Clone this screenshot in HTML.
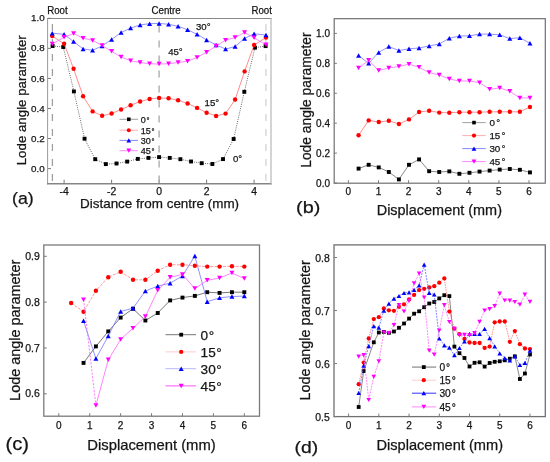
<!DOCTYPE html><html><head><meta charset="utf-8"><style>html,body{margin:0;padding:0;background:#fff;}svg{display:block;will-change:transform;}text{font-family:"Liberation Sans", sans-serif;stroke:#151515;stroke-width:0.25px;}</style></head><body>
<svg width="550" height="462" viewBox="0 0 550 462">
<rect width="550" height="462" fill="#fff"/>
<line x1="47.6" y1="18.5" x2="47.6" y2="184.4" stroke="#999" stroke-width="1"/>
<line x1="47.1" y1="183.75" x2="271.6" y2="183.75" stroke="#858585" stroke-width="1.4"/>
<line x1="47.1" y1="18.5" x2="271.6" y2="18.5" stroke="#888" stroke-width="1.2"/>
<line x1="271" y1="18" x2="271" y2="184.4" stroke="#b0b0b0" stroke-width="1.1"/>
<line x1="64.1" y1="183.7" x2="64.1" y2="179.7" stroke="#7a7a7a" stroke-width="1"/>
<line x1="111.6" y1="183.7" x2="111.6" y2="179.7" stroke="#7a7a7a" stroke-width="1"/>
<line x1="159.1" y1="183.7" x2="159.1" y2="179.7" stroke="#7a7a7a" stroke-width="1"/>
<line x1="206.6" y1="183.7" x2="206.6" y2="179.7" stroke="#7a7a7a" stroke-width="1"/>
<line x1="254.1" y1="183.7" x2="254.1" y2="179.7" stroke="#7a7a7a" stroke-width="1"/>
<line x1="48" y1="168.6" x2="51" y2="168.6" stroke="#7a7a7a" stroke-width="1"/>
<line x1="48" y1="138.54" x2="51" y2="138.54" stroke="#7a7a7a" stroke-width="1"/>
<line x1="48" y1="108.48" x2="51" y2="108.48" stroke="#7a7a7a" stroke-width="1"/>
<line x1="48" y1="78.42" x2="51" y2="78.42" stroke="#7a7a7a" stroke-width="1"/>
<line x1="48" y1="48.36" x2="51" y2="48.36" stroke="#7a7a7a" stroke-width="1"/>
<line x1="48" y1="18.3" x2="51" y2="18.3" stroke="#7a7a7a" stroke-width="1"/>
<line x1="52.4" y1="23.9" x2="52.4" y2="183" stroke="#a0a0a0" stroke-width="1.3" stroke-dasharray="7,8"/>
<line x1="159.1" y1="25.5" x2="159.1" y2="183" stroke="#a8a8a8" stroke-width="1.3" stroke-dasharray="7,8"/>
<line x1="265.9" y1="23.9" x2="265.9" y2="183" stroke="#d4d4d4" stroke-width="1.3" stroke-dasharray="7,8"/>
<text x="44.6" y="171.7" font-size="9.8" text-anchor="end" fill="#151515">0.0</text>
<text x="44.6" y="141.64" font-size="9.8" text-anchor="end" fill="#151515">0.2</text>
<text x="44.6" y="111.58" font-size="9.8" text-anchor="end" fill="#151515">0.4</text>
<text x="44.6" y="81.52" font-size="9.8" text-anchor="end" fill="#151515">0.6</text>
<text x="44.6" y="51.46" font-size="9.8" text-anchor="end" fill="#151515">0.8</text>
<text x="44.6" y="21.4" font-size="9.8" text-anchor="end" fill="#151515">1.0</text>
<text x="64.1" y="194.9" font-size="10.4" text-anchor="middle" fill="#151515">-4</text>
<text x="111.6" y="194.9" font-size="10.4" text-anchor="middle" fill="#151515">-2</text>
<text x="159.1" y="194.9" font-size="10.4" text-anchor="middle" fill="#151515">0</text>
<text x="206.6" y="194.9" font-size="10.4" text-anchor="middle" fill="#151515">2</text>
<text x="254.1" y="194.9" font-size="10.4" text-anchor="middle" fill="#151515">4</text>
<text x="80" y="207.8" font-size="13.4" text-anchor="start" fill="#151515" textLength="159.1" lengthAdjust="spacingAndGlyphs">Distance from centre (mm)</text>
<text x="25.6" y="165.3" font-size="13.3" text-anchor="start" fill="#151515" transform="rotate(-90 25.6 165.3)">Lode angle parameter</text>
<text x="12.1" y="203.7" font-size="17.4" text-anchor="start" fill="#151515" textLength="21.7" lengthAdjust="spacingAndGlyphs">(a)</text>
<text x="47.2" y="13.6" font-size="10.3" text-anchor="start" fill="#151515" textLength="20.4" lengthAdjust="spacingAndGlyphs">Root</text>
<text x="251.5" y="13.6" font-size="10.3" text-anchor="start" fill="#151515" textLength="20.4" lengthAdjust="spacingAndGlyphs">Root</text>
<text x="151.5" y="13.6" font-size="10.3" text-anchor="start" fill="#151515" textLength="29.1" lengthAdjust="spacingAndGlyphs">Centre</text>
<text x="196" y="30" font-size="9.6" text-anchor="start" fill="#151515">30°</text>
<text x="168.2" y="55.1" font-size="9.6" text-anchor="start" fill="#151515">45°</text>
<text x="204.6" y="105.9" font-size="9.6" text-anchor="start" fill="#151515">15°</text>
<text x="233" y="161.5" font-size="9.6" text-anchor="start" fill="#151515">0°</text>
<polyline points="52.6,46 63.25,47 73.9,91.4 84.55,138.7 95.2,159.2 105.85,164.1 116.5,163.5 127.15,161.6 137.8,158.9 148.45,157.9 159.1,157.1 169.75,157.9 180.4,159.2 191.05,161.5 201.7,163.2 212.35,164 223,159.1 233.65,139 244.3,91.8 254.95,47.7 265.6,46.1" fill="none" stroke="#444" stroke-width="0.8" stroke-dasharray="1,1.2"/>
<rect x="50.65" y="44.05" width="3.9" height="3.9" fill="#000"/>
<rect x="61.3" y="45.05" width="3.9" height="3.9" fill="#000"/>
<rect x="71.95" y="89.45" width="3.9" height="3.9" fill="#000"/>
<rect x="82.6" y="136.75" width="3.9" height="3.9" fill="#000"/>
<rect x="93.25" y="157.25" width="3.9" height="3.9" fill="#000"/>
<rect x="103.9" y="162.15" width="3.9" height="3.9" fill="#000"/>
<rect x="114.55" y="161.55" width="3.9" height="3.9" fill="#000"/>
<rect x="125.2" y="159.65" width="3.9" height="3.9" fill="#000"/>
<rect x="135.85" y="156.95" width="3.9" height="3.9" fill="#000"/>
<rect x="146.5" y="155.95" width="3.9" height="3.9" fill="#000"/>
<rect x="157.15" y="155.15" width="3.9" height="3.9" fill="#000"/>
<rect x="167.8" y="155.95" width="3.9" height="3.9" fill="#000"/>
<rect x="178.45" y="157.25" width="3.9" height="3.9" fill="#000"/>
<rect x="189.1" y="159.55" width="3.9" height="3.9" fill="#000"/>
<rect x="199.75" y="161.25" width="3.9" height="3.9" fill="#000"/>
<rect x="210.4" y="162.05" width="3.9" height="3.9" fill="#000"/>
<rect x="221.05" y="157.15" width="3.9" height="3.9" fill="#000"/>
<rect x="231.7" y="137.05" width="3.9" height="3.9" fill="#000"/>
<rect x="242.35" y="89.85" width="3.9" height="3.9" fill="#000"/>
<rect x="253" y="45.75" width="3.9" height="3.9" fill="#000"/>
<rect x="263.65" y="44.15" width="3.9" height="3.9" fill="#000"/>
<polyline points="52.22,36.1 64.1,43.8 73.6,68.8 83.1,96.2 92.6,111.4 102.1,115.8 111.6,113.5 121.1,109.5 130.6,105.3 140.1,101.5 149.6,99 159.1,98 168.6,98.3 178.1,100.2 187.6,103.5 197.1,107.9 206.6,112.7 216.1,116 225.6,113.6 235.1,99.5 244.6,71.4 254.1,45 265.98,37.6" fill="none" stroke="#ff7070" stroke-width="0.8"/>
<circle cx="52.22" cy="36.1" r="2.2" fill="#ff0000"/>
<circle cx="64.1" cy="43.8" r="2.2" fill="#ff0000"/>
<circle cx="73.6" cy="68.8" r="2.2" fill="#ff0000"/>
<circle cx="83.1" cy="96.2" r="2.2" fill="#ff0000"/>
<circle cx="92.6" cy="111.4" r="2.2" fill="#ff0000"/>
<circle cx="102.1" cy="115.8" r="2.2" fill="#ff0000"/>
<circle cx="111.6" cy="113.5" r="2.2" fill="#ff0000"/>
<circle cx="121.1" cy="109.5" r="2.2" fill="#ff0000"/>
<circle cx="130.6" cy="105.3" r="2.2" fill="#ff0000"/>
<circle cx="140.1" cy="101.5" r="2.2" fill="#ff0000"/>
<circle cx="149.6" cy="99" r="2.2" fill="#ff0000"/>
<circle cx="159.1" cy="98" r="2.2" fill="#ff0000"/>
<circle cx="168.6" cy="98.3" r="2.2" fill="#ff0000"/>
<circle cx="178.1" cy="100.2" r="2.2" fill="#ff0000"/>
<circle cx="187.6" cy="103.5" r="2.2" fill="#ff0000"/>
<circle cx="197.1" cy="107.9" r="2.2" fill="#ff0000"/>
<circle cx="206.6" cy="112.7" r="2.2" fill="#ff0000"/>
<circle cx="216.1" cy="116" r="2.2" fill="#ff0000"/>
<circle cx="225.6" cy="113.6" r="2.2" fill="#ff0000"/>
<circle cx="235.1" cy="99.5" r="2.2" fill="#ff0000"/>
<circle cx="244.6" cy="71.4" r="2.2" fill="#ff0000"/>
<circle cx="254.1" cy="45" r="2.2" fill="#ff0000"/>
<circle cx="265.98" cy="37.6" r="2.2" fill="#ff0000"/>
<polyline points="52.22,33.2 64.1,34.3 73.6,41.6 83.1,48.9 92.6,50.3 102.1,46 111.6,39.4 121.1,32.5 130.6,28.1 140.1,24.9 149.6,23.7 159.1,23.4 168.6,24.3 178.1,26.3 187.6,29.8 197.1,34.3 206.6,39.9 216.1,45 225.6,49 235.1,46.6 244.6,38.4 254.1,33.8 265.98,35.1" fill="none" stroke="#7777ff" stroke-width="0.8"/>
<polygon points="52.22,30.95 49.72,35.45 54.72,35.45" fill="#0000ff"/>
<polygon points="64.1,32.05 61.6,36.55 66.6,36.55" fill="#0000ff"/>
<polygon points="73.6,39.35 71.1,43.85 76.1,43.85" fill="#0000ff"/>
<polygon points="83.1,46.65 80.6,51.15 85.6,51.15" fill="#0000ff"/>
<polygon points="92.6,48.05 90.1,52.55 95.1,52.55" fill="#0000ff"/>
<polygon points="102.1,43.75 99.6,48.25 104.6,48.25" fill="#0000ff"/>
<polygon points="111.6,37.15 109.1,41.65 114.1,41.65" fill="#0000ff"/>
<polygon points="121.1,30.25 118.6,34.75 123.6,34.75" fill="#0000ff"/>
<polygon points="130.6,25.85 128.1,30.35 133.1,30.35" fill="#0000ff"/>
<polygon points="140.1,22.65 137.6,27.15 142.6,27.15" fill="#0000ff"/>
<polygon points="149.6,21.45 147.1,25.95 152.1,25.95" fill="#0000ff"/>
<polygon points="159.1,21.15 156.6,25.65 161.6,25.65" fill="#0000ff"/>
<polygon points="168.6,22.05 166.1,26.55 171.1,26.55" fill="#0000ff"/>
<polygon points="178.1,24.05 175.6,28.55 180.6,28.55" fill="#0000ff"/>
<polygon points="187.6,27.55 185.1,32.05 190.1,32.05" fill="#0000ff"/>
<polygon points="197.1,32.05 194.6,36.55 199.6,36.55" fill="#0000ff"/>
<polygon points="206.6,37.65 204.1,42.15 209.1,42.15" fill="#0000ff"/>
<polygon points="216.1,42.75 213.6,47.25 218.6,47.25" fill="#0000ff"/>
<polygon points="225.6,46.75 223.1,51.25 228.1,51.25" fill="#0000ff"/>
<polygon points="235.1,44.35 232.6,48.85 237.6,48.85" fill="#0000ff"/>
<polygon points="244.6,36.15 242.1,40.65 247.1,40.65" fill="#0000ff"/>
<polygon points="254.1,31.55 251.6,36.05 256.6,36.05" fill="#0000ff"/>
<polygon points="265.98,32.85 263.48,37.35 268.48,37.35" fill="#0000ff"/>
<polyline points="52.22,44.1 64.1,37.2 73.6,33.6 83.1,38.2 92.6,40.4 102.1,45.5 111.6,51.3 121.1,57 130.6,60.8 140.1,62.5 149.6,63.7 159.1,64.1 168.6,63.7 178.1,62.5 187.6,61.2 197.1,57.4 206.6,52.2 216.1,46 225.6,40.2 235.1,37.5 244.6,32.6 254.1,37.8 265.98,44.8" fill="none" stroke="#ff55ff" stroke-width="0.7"/>
<polygon points="52.22,46.35 49.72,41.85 54.72,41.85" fill="#ff00ff"/>
<polygon points="64.1,39.45 61.6,34.95 66.6,34.95" fill="#ff00ff"/>
<polygon points="73.6,35.85 71.1,31.35 76.1,31.35" fill="#ff00ff"/>
<polygon points="83.1,40.45 80.6,35.95 85.6,35.95" fill="#ff00ff"/>
<polygon points="92.6,42.65 90.1,38.15 95.1,38.15" fill="#ff00ff"/>
<polygon points="102.1,47.75 99.6,43.25 104.6,43.25" fill="#ff00ff"/>
<polygon points="111.6,53.55 109.1,49.05 114.1,49.05" fill="#ff00ff"/>
<polygon points="121.1,59.25 118.6,54.75 123.6,54.75" fill="#ff00ff"/>
<polygon points="130.6,63.05 128.1,58.55 133.1,58.55" fill="#ff00ff"/>
<polygon points="140.1,64.75 137.6,60.25 142.6,60.25" fill="#ff00ff"/>
<polygon points="149.6,65.95 147.1,61.45 152.1,61.45" fill="#ff00ff"/>
<polygon points="159.1,66.35 156.6,61.85 161.6,61.85" fill="#ff00ff"/>
<polygon points="168.6,65.95 166.1,61.45 171.1,61.45" fill="#ff00ff"/>
<polygon points="178.1,64.75 175.6,60.25 180.6,60.25" fill="#ff00ff"/>
<polygon points="187.6,63.45 185.1,58.95 190.1,58.95" fill="#ff00ff"/>
<polygon points="197.1,59.65 194.6,55.15 199.6,55.15" fill="#ff00ff"/>
<polygon points="206.6,54.45 204.1,49.95 209.1,49.95" fill="#ff00ff"/>
<polygon points="216.1,48.25 213.6,43.75 218.6,43.75" fill="#ff00ff"/>
<polygon points="225.6,42.45 223.1,37.95 228.1,37.95" fill="#ff00ff"/>
<polygon points="235.1,39.75 232.6,35.25 237.6,35.25" fill="#ff00ff"/>
<polygon points="244.6,34.85 242.1,30.35 247.1,30.35" fill="#ff00ff"/>
<polygon points="254.1,40.05 251.6,35.55 256.6,35.55" fill="#ff00ff"/>
<polygon points="265.98,47.05 263.48,42.55 268.48,42.55" fill="#ff00ff"/>
<line x1="119.5" y1="119.3" x2="138" y2="119.3" stroke="#888" stroke-width="0.8"/>
<rect x="127" y="117.5" width="3.6" height="3.6" fill="#000"/>
<text x="140.8" y="122.6" font-size="9" text-anchor="start" fill="#151515">0<tspan dx="0.6" font-size="7.5">°</tspan></text>
<line x1="119.5" y1="130.2" x2="138" y2="130.2" stroke="#ff9999" stroke-width="0.8"/>
<circle cx="128.8" cy="130.2" r="2" fill="#ff0000"/>
<text x="140.8" y="133.5" font-size="9" text-anchor="start" fill="#151515">15<tspan dx="0.6" font-size="7.5">°</tspan></text>
<line x1="119.5" y1="140.4" x2="138" y2="140.4" stroke="#6666ff" stroke-width="0.8"/>
<polygon points="128.8,138.24 126.4,142.56 131.2,142.56" fill="#0000ff"/>
<text x="140.8" y="143.7" font-size="9" text-anchor="start" fill="#151515">30<tspan dx="0.6" font-size="7.5">°</tspan></text>
<line x1="119.5" y1="150.7" x2="138" y2="150.7" stroke="#ff66ff" stroke-width="0.8"/>
<polygon points="128.8,152.86 126.4,148.54 131.2,148.54" fill="#ff00ff"/>
<text x="140.8" y="154" font-size="9" text-anchor="start" fill="#151515">45<tspan dx="0.6" font-size="7.5">°</tspan></text>
<rect x="334.2" y="18.7" width="211.1" height="164.5" fill="none" stroke="#707070" stroke-width="1.2"/>
<line x1="348.4" y1="183.2" x2="348.4" y2="180.2" stroke="#7a7a7a" stroke-width="1"/>
<line x1="378.5" y1="183.2" x2="378.5" y2="180.2" stroke="#7a7a7a" stroke-width="1"/>
<line x1="408.6" y1="183.2" x2="408.6" y2="180.2" stroke="#7a7a7a" stroke-width="1"/>
<line x1="438.7" y1="183.2" x2="438.7" y2="180.2" stroke="#7a7a7a" stroke-width="1"/>
<line x1="468.8" y1="183.2" x2="468.8" y2="180.2" stroke="#7a7a7a" stroke-width="1"/>
<line x1="498.9" y1="183.2" x2="498.9" y2="180.2" stroke="#7a7a7a" stroke-width="1"/>
<line x1="529" y1="183.2" x2="529" y2="180.2" stroke="#7a7a7a" stroke-width="1"/>
<line x1="333.9" y1="183" x2="336.9" y2="183" stroke="#7a7a7a" stroke-width="1"/>
<line x1="333.9" y1="153.08" x2="336.9" y2="153.08" stroke="#7a7a7a" stroke-width="1"/>
<line x1="333.9" y1="123.16" x2="336.9" y2="123.16" stroke="#7a7a7a" stroke-width="1"/>
<line x1="333.9" y1="93.24" x2="336.9" y2="93.24" stroke="#7a7a7a" stroke-width="1"/>
<line x1="333.9" y1="63.32" x2="336.9" y2="63.32" stroke="#7a7a7a" stroke-width="1"/>
<line x1="333.9" y1="33.4" x2="336.9" y2="33.4" stroke="#7a7a7a" stroke-width="1"/>
<text x="330" y="186.5" font-size="10" text-anchor="end" fill="#151515">0.0</text>
<text x="330" y="156.58" font-size="10" text-anchor="end" fill="#151515">0.2</text>
<text x="330" y="126.66" font-size="10" text-anchor="end" fill="#151515">0.4</text>
<text x="330" y="96.74" font-size="10" text-anchor="end" fill="#151515">0.6</text>
<text x="330" y="66.82" font-size="10" text-anchor="end" fill="#151515">0.8</text>
<text x="330" y="36.9" font-size="10" text-anchor="end" fill="#151515">1.0</text>
<text x="348.4" y="194.5" font-size="10" text-anchor="middle" fill="#151515">0</text>
<text x="378.5" y="194.5" font-size="10" text-anchor="middle" fill="#151515">1</text>
<text x="408.6" y="194.5" font-size="10" text-anchor="middle" fill="#151515">2</text>
<text x="438.7" y="194.5" font-size="10" text-anchor="middle" fill="#151515">3</text>
<text x="468.8" y="194.5" font-size="10" text-anchor="middle" fill="#151515">4</text>
<text x="498.9" y="194.5" font-size="10" text-anchor="middle" fill="#151515">5</text>
<text x="529" y="194.5" font-size="10" text-anchor="middle" fill="#151515">6</text>
<text x="376.7" y="214.6" font-size="14" text-anchor="start" fill="#151515" textLength="125.3" lengthAdjust="spacingAndGlyphs">Displacement (mm)</text>
<text x="311.2" y="167.8" font-size="13.85" text-anchor="start" fill="#151515" transform="rotate(-90 311.2 167.8)">Lode angle parameter</text>
<text x="296.1" y="213.4" font-size="17.4" text-anchor="start" fill="#151515" textLength="24.2" lengthAdjust="spacingAndGlyphs">(b)</text>
<polyline points="358.58,168.6 368.66,164.8 378.74,167.4 388.82,172 398.9,179.4 408.99,164.8 419.07,159.4 429.15,171.2 439.23,172 449.31,171.4 459.39,173.8 469.47,172.8 479.55,171.6 489.63,170.6 499.72,169.6 509.8,169 519.88,169.8 529.96,172.4" fill="none" stroke="#555" stroke-width="0.7"/>
<rect x="356.63" y="166.65" width="3.9" height="3.9" fill="#000"/>
<rect x="366.71" y="162.85" width="3.9" height="3.9" fill="#000"/>
<rect x="376.79" y="165.45" width="3.9" height="3.9" fill="#000"/>
<rect x="386.87" y="170.05" width="3.9" height="3.9" fill="#000"/>
<rect x="396.95" y="177.45" width="3.9" height="3.9" fill="#000"/>
<rect x="407.04" y="162.85" width="3.9" height="3.9" fill="#000"/>
<rect x="417.12" y="157.45" width="3.9" height="3.9" fill="#000"/>
<rect x="427.2" y="169.25" width="3.9" height="3.9" fill="#000"/>
<rect x="437.28" y="170.05" width="3.9" height="3.9" fill="#000"/>
<rect x="447.36" y="169.45" width="3.9" height="3.9" fill="#000"/>
<rect x="457.44" y="171.85" width="3.9" height="3.9" fill="#000"/>
<rect x="467.52" y="170.85" width="3.9" height="3.9" fill="#000"/>
<rect x="477.6" y="169.65" width="3.9" height="3.9" fill="#000"/>
<rect x="487.68" y="168.65" width="3.9" height="3.9" fill="#000"/>
<rect x="497.77" y="167.65" width="3.9" height="3.9" fill="#000"/>
<rect x="507.85" y="167.05" width="3.9" height="3.9" fill="#000"/>
<rect x="517.93" y="167.85" width="3.9" height="3.9" fill="#000"/>
<rect x="528.01" y="170.45" width="3.9" height="3.9" fill="#000"/>
<polyline points="358.58,135.2 368.66,120.4 378.74,122 388.82,120.8 398.9,124 408.99,119.4 419.07,112 429.15,110.8 439.23,112.6 449.31,112.7 459.39,112.2 469.47,112.2 479.55,112.2 489.63,111.8 499.72,111.8 509.8,111.8 519.88,111.8 529.96,107" fill="none" stroke="#ff7070" stroke-width="0.8"/>
<circle cx="358.58" cy="135.2" r="2.2" fill="#ff0000"/>
<circle cx="368.66" cy="120.4" r="2.2" fill="#ff0000"/>
<circle cx="378.74" cy="122" r="2.2" fill="#ff0000"/>
<circle cx="388.82" cy="120.8" r="2.2" fill="#ff0000"/>
<circle cx="398.9" cy="124" r="2.2" fill="#ff0000"/>
<circle cx="408.99" cy="119.4" r="2.2" fill="#ff0000"/>
<circle cx="419.07" cy="112" r="2.2" fill="#ff0000"/>
<circle cx="429.15" cy="110.8" r="2.2" fill="#ff0000"/>
<circle cx="439.23" cy="112.6" r="2.2" fill="#ff0000"/>
<circle cx="449.31" cy="112.7" r="2.2" fill="#ff0000"/>
<circle cx="459.39" cy="112.2" r="2.2" fill="#ff0000"/>
<circle cx="469.47" cy="112.2" r="2.2" fill="#ff0000"/>
<circle cx="479.55" cy="112.2" r="2.2" fill="#ff0000"/>
<circle cx="489.63" cy="111.8" r="2.2" fill="#ff0000"/>
<circle cx="499.72" cy="111.8" r="2.2" fill="#ff0000"/>
<circle cx="509.8" cy="111.8" r="2.2" fill="#ff0000"/>
<circle cx="519.88" cy="111.8" r="2.2" fill="#ff0000"/>
<circle cx="529.96" cy="107" r="2.2" fill="#ff0000"/>
<polyline points="358.58,55.6 368.66,63.3 378.74,52.4 388.82,46.6 398.9,50.5 408.99,48.8 419.07,48 429.15,45.9 439.23,44 449.31,38.2 459.39,36 469.47,35.8 479.55,34.1 489.63,34.1 499.72,34.8 509.8,38.6 519.88,37.7 529.96,43.3" fill="none" stroke="#7777ff" stroke-width="0.8"/>
<polygon points="358.58,53.35 356.08,57.85 361.08,57.85" fill="#0000ff"/>
<polygon points="368.66,61.05 366.16,65.55 371.16,65.55" fill="#0000ff"/>
<polygon points="378.74,50.15 376.24,54.65 381.24,54.65" fill="#0000ff"/>
<polygon points="388.82,44.35 386.32,48.85 391.32,48.85" fill="#0000ff"/>
<polygon points="398.9,48.25 396.4,52.75 401.4,52.75" fill="#0000ff"/>
<polygon points="408.99,46.55 406.49,51.05 411.49,51.05" fill="#0000ff"/>
<polygon points="419.07,45.75 416.57,50.25 421.57,50.25" fill="#0000ff"/>
<polygon points="429.15,43.65 426.65,48.15 431.65,48.15" fill="#0000ff"/>
<polygon points="439.23,41.75 436.73,46.25 441.73,46.25" fill="#0000ff"/>
<polygon points="449.31,35.95 446.81,40.45 451.81,40.45" fill="#0000ff"/>
<polygon points="459.39,33.75 456.89,38.25 461.89,38.25" fill="#0000ff"/>
<polygon points="469.47,33.55 466.97,38.05 471.97,38.05" fill="#0000ff"/>
<polygon points="479.55,31.85 477.05,36.35 482.05,36.35" fill="#0000ff"/>
<polygon points="489.63,31.85 487.13,36.35 492.13,36.35" fill="#0000ff"/>
<polygon points="499.72,32.55 497.22,37.05 502.22,37.05" fill="#0000ff"/>
<polygon points="509.8,36.35 507.3,40.85 512.3,40.85" fill="#0000ff"/>
<polygon points="519.88,35.45 517.38,39.95 522.38,39.95" fill="#0000ff"/>
<polygon points="529.96,41.05 527.46,45.55 532.46,45.55" fill="#0000ff"/>
<polyline points="358.58,68 368.66,60.3 378.74,70.6 388.82,68 398.9,66.5 408.99,64.2 419.07,67.3 429.15,72.6 439.23,74.9 449.31,79 459.39,81 469.47,81 479.55,82.7 489.63,89.3 499.72,87.9 509.8,91.3 519.88,97.9 529.96,97.9" fill="none" stroke="#ff55ff" stroke-width="0.7"/>
<polygon points="358.58,70.25 356.08,65.75 361.08,65.75" fill="#ff00ff"/>
<polygon points="368.66,62.55 366.16,58.05 371.16,58.05" fill="#ff00ff"/>
<polygon points="378.74,72.85 376.24,68.35 381.24,68.35" fill="#ff00ff"/>
<polygon points="388.82,70.25 386.32,65.75 391.32,65.75" fill="#ff00ff"/>
<polygon points="398.9,68.75 396.4,64.25 401.4,64.25" fill="#ff00ff"/>
<polygon points="408.99,66.45 406.49,61.95 411.49,61.95" fill="#ff00ff"/>
<polygon points="419.07,69.55 416.57,65.05 421.57,65.05" fill="#ff00ff"/>
<polygon points="429.15,74.85 426.65,70.35 431.65,70.35" fill="#ff00ff"/>
<polygon points="439.23,77.15 436.73,72.65 441.73,72.65" fill="#ff00ff"/>
<polygon points="449.31,81.25 446.81,76.75 451.81,76.75" fill="#ff00ff"/>
<polygon points="459.39,83.25 456.89,78.75 461.89,78.75" fill="#ff00ff"/>
<polygon points="469.47,83.25 466.97,78.75 471.97,78.75" fill="#ff00ff"/>
<polygon points="479.55,84.95 477.05,80.45 482.05,80.45" fill="#ff00ff"/>
<polygon points="489.63,91.55 487.13,87.05 492.13,87.05" fill="#ff00ff"/>
<polygon points="499.72,90.15 497.22,85.65 502.22,85.65" fill="#ff00ff"/>
<polygon points="509.8,93.55 507.3,89.05 512.3,89.05" fill="#ff00ff"/>
<polygon points="519.88,100.15 517.38,95.65 522.38,95.65" fill="#ff00ff"/>
<polygon points="529.96,100.15 527.46,95.65 532.46,95.65" fill="#ff00ff"/>
<line x1="462.3" y1="122.6" x2="485.7" y2="122.6" stroke="#888" stroke-width="0.8"/>
<rect x="472.2" y="120.8" width="3.6" height="3.6" fill="#000"/>
<text x="489.4" y="126.1" font-size="9.8" text-anchor="start" fill="#151515">0<tspan dx="1.3">°</tspan></text>
<line x1="462.3" y1="135.6" x2="485.7" y2="135.6" stroke="#ff9999" stroke-width="0.8"/>
<circle cx="474" cy="135.6" r="2.1" fill="#ff0000"/>
<text x="489.4" y="139.1" font-size="9.8" text-anchor="start" fill="#151515">15<tspan dx="1.3">°</tspan></text>
<line x1="462.3" y1="148.6" x2="485.7" y2="148.6" stroke="#6666ff" stroke-width="0.8"/>
<polygon points="474,146.44 471.6,150.76 476.4,150.76" fill="#0000ff"/>
<text x="489.4" y="152.1" font-size="9.8" text-anchor="start" fill="#151515">30<tspan dx="1.3">°</tspan></text>
<line x1="462.3" y1="161.6" x2="485.7" y2="161.6" stroke="#ff66ff" stroke-width="0.8"/>
<polygon points="474,163.76 471.6,159.44 476.4,159.44" fill="#ff00ff"/>
<text x="489.4" y="165.1" font-size="9.8" text-anchor="start" fill="#151515">45<tspan dx="1.3">°</tspan></text>
<rect x="43.8" y="245" width="215.7" height="171.2" fill="none" stroke="#7a7a7a" stroke-width="1.3"/>
<line x1="58.8" y1="416.2" x2="58.8" y2="413.2" stroke="#7a7a7a" stroke-width="1"/>
<line x1="89.72" y1="416.2" x2="89.72" y2="413.2" stroke="#7a7a7a" stroke-width="1"/>
<line x1="120.64" y1="416.2" x2="120.64" y2="413.2" stroke="#7a7a7a" stroke-width="1"/>
<line x1="151.56" y1="416.2" x2="151.56" y2="413.2" stroke="#7a7a7a" stroke-width="1"/>
<line x1="182.48" y1="416.2" x2="182.48" y2="413.2" stroke="#7a7a7a" stroke-width="1"/>
<line x1="213.4" y1="416.2" x2="213.4" y2="413.2" stroke="#7a7a7a" stroke-width="1"/>
<line x1="244.32" y1="416.2" x2="244.32" y2="413.2" stroke="#7a7a7a" stroke-width="1"/>
<line x1="43.8" y1="393.79" x2="46.8" y2="393.79" stroke="#7a7a7a" stroke-width="1"/>
<line x1="43.8" y1="347.96" x2="46.8" y2="347.96" stroke="#7a7a7a" stroke-width="1"/>
<line x1="43.8" y1="302.13" x2="46.8" y2="302.13" stroke="#7a7a7a" stroke-width="1"/>
<line x1="43.8" y1="256.3" x2="46.8" y2="256.3" stroke="#7a7a7a" stroke-width="1"/>
<text x="39.8" y="397.49" font-size="10.5" text-anchor="end" fill="#151515">0.6</text>
<text x="39.8" y="351.66" font-size="10.5" text-anchor="end" fill="#151515">0.7</text>
<text x="39.8" y="305.83" font-size="10.5" text-anchor="end" fill="#151515">0.8</text>
<text x="39.8" y="260" font-size="10.5" text-anchor="end" fill="#151515">0.9</text>
<text x="58.8" y="428.6" font-size="10" text-anchor="middle" fill="#151515">0</text>
<text x="89.72" y="428.6" font-size="10" text-anchor="middle" fill="#151515">1</text>
<text x="120.64" y="428.6" font-size="10" text-anchor="middle" fill="#151515">2</text>
<text x="151.56" y="428.6" font-size="10" text-anchor="middle" fill="#151515">3</text>
<text x="182.48" y="428.6" font-size="10" text-anchor="middle" fill="#151515">4</text>
<text x="213.4" y="428.6" font-size="10" text-anchor="middle" fill="#151515">5</text>
<text x="244.32" y="428.6" font-size="10" text-anchor="middle" fill="#151515">6</text>
<text x="87.3" y="449.6" font-size="14.5" text-anchor="start" fill="#151515" textLength="128.4" lengthAdjust="spacingAndGlyphs">Displacement (mm)</text>
<text x="20" y="400.9" font-size="14.45" text-anchor="start" fill="#151515" transform="rotate(-90 20 400.9)">Lode angle parameter</text>
<text x="5.5" y="450" font-size="18.6" text-anchor="start" fill="#151515" textLength="23.6" lengthAdjust="spacingAndGlyphs">(c)</text>
<polyline points="83.54,362.9 95.9,346.4 108.27,331.4 120.64,317.6 133.01,308.7 145.38,320.5 157.74,313 170.11,300.4 182.48,297.6 194.85,295.9 207.22,292.2 219.58,292.9 231.95,292.2 244.32,292.2" fill="none" stroke="#555" stroke-width="0.8"/>
<rect x="81.59" y="360.95" width="3.9" height="3.9" fill="#000"/>
<rect x="93.95" y="344.45" width="3.9" height="3.9" fill="#000"/>
<rect x="106.32" y="329.45" width="3.9" height="3.9" fill="#000"/>
<rect x="118.69" y="315.65" width="3.9" height="3.9" fill="#000"/>
<rect x="131.06" y="306.75" width="3.9" height="3.9" fill="#000"/>
<rect x="143.43" y="318.55" width="3.9" height="3.9" fill="#000"/>
<rect x="155.79" y="311.05" width="3.9" height="3.9" fill="#000"/>
<rect x="168.16" y="298.45" width="3.9" height="3.9" fill="#000"/>
<rect x="180.53" y="295.65" width="3.9" height="3.9" fill="#000"/>
<rect x="192.9" y="293.95" width="3.9" height="3.9" fill="#000"/>
<rect x="205.27" y="290.25" width="3.9" height="3.9" fill="#000"/>
<rect x="217.63" y="290.95" width="3.9" height="3.9" fill="#000"/>
<rect x="230" y="290.25" width="3.9" height="3.9" fill="#000"/>
<rect x="242.37" y="290.25" width="3.9" height="3.9" fill="#000"/>
<polyline points="71.17,303 83.54,311.8 95.9,290.7 108.27,277.2 120.64,271.8 133.01,279.8 145.38,279.8 157.74,270.7 170.11,264.8 182.48,264.8 194.85,265.7 207.22,266.6 219.58,266.6 231.95,266.2 244.32,266.6" fill="none" stroke="#ff8080" stroke-width="0.8" stroke-dasharray="3,1.2"/>
<circle cx="71.17" cy="303" r="2.2" fill="#ff0000"/>
<circle cx="83.54" cy="311.8" r="2.2" fill="#ff0000"/>
<circle cx="95.9" cy="290.7" r="2.2" fill="#ff0000"/>
<circle cx="108.27" cy="277.2" r="2.2" fill="#ff0000"/>
<circle cx="120.64" cy="271.8" r="2.2" fill="#ff0000"/>
<circle cx="133.01" cy="279.8" r="2.2" fill="#ff0000"/>
<circle cx="145.38" cy="279.8" r="2.2" fill="#ff0000"/>
<circle cx="157.74" cy="270.7" r="2.2" fill="#ff0000"/>
<circle cx="170.11" cy="264.8" r="2.2" fill="#ff0000"/>
<circle cx="182.48" cy="264.8" r="2.2" fill="#ff0000"/>
<circle cx="194.85" cy="265.7" r="2.2" fill="#ff0000"/>
<circle cx="207.22" cy="266.6" r="2.2" fill="#ff0000"/>
<circle cx="219.58" cy="266.6" r="2.2" fill="#ff0000"/>
<circle cx="231.95" cy="266.2" r="2.2" fill="#ff0000"/>
<circle cx="244.32" cy="266.6" r="2.2" fill="#ff0000"/>
<polyline points="83.54,320.8 95.9,358.6 108.27,336 120.64,311.5 133.01,308.2 145.38,291 157.74,286.1 170.11,283.2 182.48,275.9 194.85,256 207.22,301.7 219.58,297.8 231.95,296.5 244.32,296.1" fill="none" stroke="#7777ff" stroke-width="0.8"/>
<polygon points="83.54,318.55 81.04,323.05 86.04,323.05" fill="#0000ff"/>
<polygon points="95.9,356.35 93.4,360.85 98.4,360.85" fill="#0000ff"/>
<polygon points="108.27,333.75 105.77,338.25 110.77,338.25" fill="#0000ff"/>
<polygon points="120.64,309.25 118.14,313.75 123.14,313.75" fill="#0000ff"/>
<polygon points="133.01,305.95 130.51,310.45 135.51,310.45" fill="#0000ff"/>
<polygon points="145.38,288.75 142.88,293.25 147.88,293.25" fill="#0000ff"/>
<polygon points="157.74,283.85 155.24,288.35 160.24,288.35" fill="#0000ff"/>
<polygon points="170.11,280.95 167.61,285.45 172.61,285.45" fill="#0000ff"/>
<polygon points="182.48,273.65 179.98,278.15 184.98,278.15" fill="#0000ff"/>
<polygon points="194.85,253.75 192.35,258.25 197.35,258.25" fill="#0000ff"/>
<polygon points="207.22,299.45 204.72,303.95 209.72,303.95" fill="#0000ff"/>
<polygon points="219.58,295.55 217.08,300.05 222.08,300.05" fill="#0000ff"/>
<polygon points="231.95,294.25 229.45,298.75 234.45,298.75" fill="#0000ff"/>
<polygon points="244.32,293.85 241.82,298.35 246.82,298.35" fill="#0000ff"/>
<polyline points="83.54,299.7 95.9,405.5" fill="none" stroke="#ff55ff" stroke-width="0.8" stroke-dasharray="2,1.5"/>
<polyline points="95.9,405.5 108.27,359.8 120.64,339.4 133.01,328.2 145.38,316.6 157.74,290.3 170.11,277.3 182.48,274.4 194.85,288.5 207.22,280.3 219.58,278 231.95,273 244.32,278.6" fill="none" stroke="#ff66ff" stroke-width="0.8"/>
<polygon points="95.9,407.75 93.4,403.25 98.4,403.25" fill="#ff00ff"/>
<polygon points="108.27,362.05 105.77,357.55 110.77,357.55" fill="#ff00ff"/>
<polygon points="120.64,341.65 118.14,337.15 123.14,337.15" fill="#ff00ff"/>
<polygon points="133.01,330.45 130.51,325.95 135.51,325.95" fill="#ff00ff"/>
<polygon points="145.38,318.85 142.88,314.35 147.88,314.35" fill="#ff00ff"/>
<polygon points="157.74,292.55 155.24,288.05 160.24,288.05" fill="#ff00ff"/>
<polygon points="170.11,279.55 167.61,275.05 172.61,275.05" fill="#ff00ff"/>
<polygon points="182.48,276.65 179.98,272.15 184.98,272.15" fill="#ff00ff"/>
<polygon points="194.85,290.75 192.35,286.25 197.35,286.25" fill="#ff00ff"/>
<polygon points="207.22,282.55 204.72,278.05 209.72,278.05" fill="#ff00ff"/>
<polygon points="219.58,280.25 217.08,275.75 222.08,275.75" fill="#ff00ff"/>
<polygon points="231.95,275.25 229.45,270.75 234.45,270.75" fill="#ff00ff"/>
<polygon points="244.32,280.85 241.82,276.35 246.82,276.35" fill="#ff00ff"/>
<polygon points="83.54,301.95 81.04,297.45 86.04,297.45" fill="#ff00ff"/>
<line x1="165.5" y1="334.7" x2="196" y2="334.7" stroke="#777" stroke-width="1"/>
<rect x="179.3" y="332.8" width="3.8" height="3.8" fill="#000"/>
<text x="200.6" y="339.6" font-size="13.6" text-anchor="start" fill="#151515">0<tspan dx="0.6">°</tspan></text>
<line x1="165.5" y1="351.9" x2="196" y2="351.9" stroke="#ffcccc" stroke-width="1"/>
<circle cx="181.2" cy="351.9" r="2.15" fill="#ff0000"/>
<text x="200.6" y="356.8" font-size="13.6" text-anchor="start" fill="#151515">15<tspan dx="0.6">°</tspan></text>
<line x1="165.5" y1="368.7" x2="196" y2="368.7" stroke="#b8b8ff" stroke-width="1"/>
<polygon points="181.2,366.45 178.7,370.95 183.7,370.95" fill="#0000ff"/>
<text x="200.6" y="373.6" font-size="13.6" text-anchor="start" fill="#151515">30<tspan dx="0.6">°</tspan></text>
<line x1="165.5" y1="385.9" x2="196" y2="385.9" stroke="#ff55ff" stroke-width="1"/>
<polygon points="181.2,388.15 178.7,383.65 183.7,383.65" fill="#ff00ff"/>
<text x="200.6" y="390.8" font-size="13.6" text-anchor="start" fill="#151515">45<tspan dx="0.6">°</tspan></text>
<rect x="334" y="244.9" width="211.3" height="171.7" fill="none" stroke="#707070" stroke-width="1.3"/>
<line x1="348.6" y1="416.6" x2="348.6" y2="413.6" stroke="#7a7a7a" stroke-width="1"/>
<line x1="378.83" y1="416.6" x2="378.83" y2="413.6" stroke="#7a7a7a" stroke-width="1"/>
<line x1="409.06" y1="416.6" x2="409.06" y2="413.6" stroke="#7a7a7a" stroke-width="1"/>
<line x1="439.29" y1="416.6" x2="439.29" y2="413.6" stroke="#7a7a7a" stroke-width="1"/>
<line x1="469.52" y1="416.6" x2="469.52" y2="413.6" stroke="#7a7a7a" stroke-width="1"/>
<line x1="499.75" y1="416.6" x2="499.75" y2="413.6" stroke="#7a7a7a" stroke-width="1"/>
<line x1="529.98" y1="416.6" x2="529.98" y2="413.6" stroke="#7a7a7a" stroke-width="1"/>
<line x1="334" y1="416.6" x2="337" y2="416.6" stroke="#7a7a7a" stroke-width="1"/>
<line x1="334" y1="363.57" x2="337" y2="363.57" stroke="#7a7a7a" stroke-width="1"/>
<line x1="334" y1="310.54" x2="337" y2="310.54" stroke="#7a7a7a" stroke-width="1"/>
<line x1="334" y1="257.51" x2="337" y2="257.51" stroke="#7a7a7a" stroke-width="1"/>
<text x="329.7" y="420.6" font-size="10.4" text-anchor="end" fill="#151515">0.5</text>
<text x="329.7" y="367.57" font-size="10.4" text-anchor="end" fill="#151515">0.6</text>
<text x="329.7" y="314.54" font-size="10.4" text-anchor="end" fill="#151515">0.7</text>
<text x="329.7" y="261.51" font-size="10.4" text-anchor="end" fill="#151515">0.8</text>
<text x="348.6" y="428.6" font-size="10" text-anchor="middle" fill="#151515">0</text>
<text x="378.83" y="428.6" font-size="10" text-anchor="middle" fill="#151515">1</text>
<text x="409.06" y="428.6" font-size="10" text-anchor="middle" fill="#151515">2</text>
<text x="439.29" y="428.6" font-size="10" text-anchor="middle" fill="#151515">3</text>
<text x="469.52" y="428.6" font-size="10" text-anchor="middle" fill="#151515">4</text>
<text x="499.75" y="428.6" font-size="10" text-anchor="middle" fill="#151515">5</text>
<text x="529.98" y="428.6" font-size="10" text-anchor="middle" fill="#151515">6</text>
<text x="376.5" y="449.6" font-size="14.5" text-anchor="start" fill="#151515" textLength="126.5" lengthAdjust="spacingAndGlyphs">Displacement (mm)</text>
<text x="310.3" y="400.5" font-size="14.35" text-anchor="start" fill="#151515" transform="rotate(-90 310.3 400.5)">Lode angle parameter</text>
<text x="294.5" y="453.2" font-size="17.3" text-anchor="start" fill="#151515" textLength="23.6" lengthAdjust="spacingAndGlyphs">(d)</text>
<polyline points="358.68,407 363.71,371 373.79,342.3 378.83,332.5 383.87,331.9 388.9,332.8 393.94,331.5 398.98,327.8 404.02,323.5 409.06,318.6 414.09,313.7 419.13,311.3 424.17,307.2 429.21,303.5 434.25,302 439.28,298.4 444.32,295.2 449.36,296.1 454.4,346.6 459.44,353.2 464.47,358 469.51,366.5 474.55,362.8 479.59,362.3 484.63,366.6 489.66,363 494.7,361.8 499.74,361.3 504.78,360.3 509.82,358.7 514.85,356.3 519.89,379 524.93,373.5 529.97,354.5" fill="none" stroke="#555" stroke-width="0.7"/>
<rect x="356.78" y="405.1" width="3.8" height="3.8" fill="#000"/>
<rect x="361.81" y="369.1" width="3.8" height="3.8" fill="#000"/>
<rect x="371.89" y="340.4" width="3.8" height="3.8" fill="#000"/>
<rect x="376.93" y="330.6" width="3.8" height="3.8" fill="#000"/>
<rect x="381.97" y="330" width="3.8" height="3.8" fill="#000"/>
<rect x="387" y="330.9" width="3.8" height="3.8" fill="#000"/>
<rect x="392.04" y="329.6" width="3.8" height="3.8" fill="#000"/>
<rect x="397.08" y="325.9" width="3.8" height="3.8" fill="#000"/>
<rect x="402.12" y="321.6" width="3.8" height="3.8" fill="#000"/>
<rect x="407.16" y="316.7" width="3.8" height="3.8" fill="#000"/>
<rect x="412.19" y="311.8" width="3.8" height="3.8" fill="#000"/>
<rect x="417.23" y="309.4" width="3.8" height="3.8" fill="#000"/>
<rect x="422.27" y="305.3" width="3.8" height="3.8" fill="#000"/>
<rect x="427.31" y="301.6" width="3.8" height="3.8" fill="#000"/>
<rect x="432.35" y="300.1" width="3.8" height="3.8" fill="#000"/>
<rect x="437.38" y="296.5" width="3.8" height="3.8" fill="#000"/>
<rect x="442.42" y="293.3" width="3.8" height="3.8" fill="#000"/>
<rect x="447.46" y="294.2" width="3.8" height="3.8" fill="#000"/>
<rect x="452.5" y="344.7" width="3.8" height="3.8" fill="#000"/>
<rect x="457.54" y="351.3" width="3.8" height="3.8" fill="#000"/>
<rect x="462.57" y="356.1" width="3.8" height="3.8" fill="#000"/>
<rect x="467.61" y="364.6" width="3.8" height="3.8" fill="#000"/>
<rect x="472.65" y="360.9" width="3.8" height="3.8" fill="#000"/>
<rect x="477.69" y="360.4" width="3.8" height="3.8" fill="#000"/>
<rect x="482.73" y="364.7" width="3.8" height="3.8" fill="#000"/>
<rect x="487.76" y="361.1" width="3.8" height="3.8" fill="#000"/>
<rect x="492.8" y="359.9" width="3.8" height="3.8" fill="#000"/>
<rect x="497.84" y="359.4" width="3.8" height="3.8" fill="#000"/>
<rect x="502.88" y="358.4" width="3.8" height="3.8" fill="#000"/>
<rect x="507.92" y="356.8" width="3.8" height="3.8" fill="#000"/>
<rect x="512.95" y="354.4" width="3.8" height="3.8" fill="#000"/>
<rect x="517.99" y="377.1" width="3.8" height="3.8" fill="#000"/>
<rect x="523.03" y="371.6" width="3.8" height="3.8" fill="#000"/>
<rect x="528.07" y="352.6" width="3.8" height="3.8" fill="#000"/>
<polyline points="358.68,384.2 363.71,362.6 368.75,338.5 373.79,319.1 378.83,317.2 383.87,308.4 388.9,310.3 393.94,310.8 398.98,306.9 404.02,304.3 409.06,299.5 414.09,294.9 419.13,290.1 424.17,288.8 429.21,287.5 434.25,286.2 439.28,282.7 444.32,278.4 449.36,311.6 454.4,328.7 459.44,334.2 464.47,339 469.51,342.5 474.55,343 479.59,343 484.63,347.9 489.66,346.6 494.7,322.3 499.74,321.5 504.78,321.5 509.82,341.8 514.85,331.1 519.89,344.2 524.93,348.5 529.97,349.1" fill="none" stroke="#ff7070" stroke-width="0.8" stroke-dasharray="1.5,1"/>
<circle cx="358.68" cy="384.2" r="2.15" fill="#ff0000"/>
<circle cx="363.71" cy="362.6" r="2.15" fill="#ff0000"/>
<circle cx="368.75" cy="338.5" r="2.15" fill="#ff0000"/>
<circle cx="373.79" cy="319.1" r="2.15" fill="#ff0000"/>
<circle cx="378.83" cy="317.2" r="2.15" fill="#ff0000"/>
<circle cx="383.87" cy="308.4" r="2.15" fill="#ff0000"/>
<circle cx="388.9" cy="310.3" r="2.15" fill="#ff0000"/>
<circle cx="393.94" cy="310.8" r="2.15" fill="#ff0000"/>
<circle cx="398.98" cy="306.9" r="2.15" fill="#ff0000"/>
<circle cx="404.02" cy="304.3" r="2.15" fill="#ff0000"/>
<circle cx="409.06" cy="299.5" r="2.15" fill="#ff0000"/>
<circle cx="414.09" cy="294.9" r="2.15" fill="#ff0000"/>
<circle cx="419.13" cy="290.1" r="2.15" fill="#ff0000"/>
<circle cx="424.17" cy="288.8" r="2.15" fill="#ff0000"/>
<circle cx="429.21" cy="287.5" r="2.15" fill="#ff0000"/>
<circle cx="434.25" cy="286.2" r="2.15" fill="#ff0000"/>
<circle cx="439.28" cy="282.7" r="2.15" fill="#ff0000"/>
<circle cx="444.32" cy="278.4" r="2.15" fill="#ff0000"/>
<circle cx="449.36" cy="311.6" r="2.15" fill="#ff0000"/>
<circle cx="454.4" cy="328.7" r="2.15" fill="#ff0000"/>
<circle cx="459.44" cy="334.2" r="2.15" fill="#ff0000"/>
<circle cx="464.47" cy="339" r="2.15" fill="#ff0000"/>
<circle cx="469.51" cy="342.5" r="2.15" fill="#ff0000"/>
<circle cx="474.55" cy="343" r="2.15" fill="#ff0000"/>
<circle cx="479.59" cy="343" r="2.15" fill="#ff0000"/>
<circle cx="484.63" cy="347.9" r="2.15" fill="#ff0000"/>
<circle cx="489.66" cy="346.6" r="2.15" fill="#ff0000"/>
<circle cx="494.7" cy="322.3" r="2.15" fill="#ff0000"/>
<circle cx="499.74" cy="321.5" r="2.15" fill="#ff0000"/>
<circle cx="504.78" cy="321.5" r="2.15" fill="#ff0000"/>
<circle cx="509.82" cy="341.8" r="2.15" fill="#ff0000"/>
<circle cx="514.85" cy="331.1" r="2.15" fill="#ff0000"/>
<circle cx="519.89" cy="344.2" r="2.15" fill="#ff0000"/>
<circle cx="524.93" cy="348.5" r="2.15" fill="#ff0000"/>
<circle cx="529.97" cy="349.1" r="2.15" fill="#ff0000"/>
<polyline points="358.68,393 363.71,365.6 368.75,346.2 373.79,326.1 378.83,327.6 383.87,310.6 388.9,303.6 393.94,298.6 398.98,296 404.02,293 409.06,292.3 414.09,289.8 419.13,285.4 424.17,264.7 429.21,292.9 434.25,294.5 439.28,338.5 444.32,345.3 449.36,347.7 454.4,355.2 459.44,348 464.47,341.5 469.51,333.8 474.55,334 479.59,334 484.63,328.8 489.66,338.1 494.7,346.3 499.74,353.3 504.78,358.2 509.82,360.5 514.85,356.4 519.89,365 524.93,362.9 529.97,350.6" fill="none" stroke="#6666ff" stroke-width="0.8" stroke-dasharray="2,1"/>
<polygon points="358.68,390.88 356.33,395.12 361.03,395.12" fill="#0000ff"/>
<polygon points="363.71,363.49 361.36,367.72 366.06,367.72" fill="#0000ff"/>
<polygon points="368.75,344.08 366.4,348.31 371.1,348.31" fill="#0000ff"/>
<polygon points="373.79,323.99 371.44,328.22 376.14,328.22" fill="#0000ff"/>
<polygon points="378.83,325.49 376.48,329.72 381.18,329.72" fill="#0000ff"/>
<polygon points="383.87,308.49 381.52,312.72 386.22,312.72" fill="#0000ff"/>
<polygon points="388.9,301.49 386.55,305.72 391.25,305.72" fill="#0000ff"/>
<polygon points="393.94,296.49 391.59,300.72 396.29,300.72" fill="#0000ff"/>
<polygon points="398.98,293.88 396.63,298.12 401.33,298.12" fill="#0000ff"/>
<polygon points="404.02,290.88 401.67,295.12 406.37,295.12" fill="#0000ff"/>
<polygon points="409.06,290.19 406.71,294.42 411.41,294.42" fill="#0000ff"/>
<polygon points="414.09,287.69 411.74,291.92 416.44,291.92" fill="#0000ff"/>
<polygon points="419.13,283.28 416.78,287.51 421.48,287.51" fill="#0000ff"/>
<polygon points="424.17,262.58 421.82,266.81 426.52,266.81" fill="#0000ff"/>
<polygon points="429.21,290.78 426.86,295.01 431.56,295.01" fill="#0000ff"/>
<polygon points="434.25,292.38 431.9,296.62 436.6,296.62" fill="#0000ff"/>
<polygon points="439.28,336.38 436.93,340.62 441.63,340.62" fill="#0000ff"/>
<polygon points="444.32,343.19 441.97,347.42 446.67,347.42" fill="#0000ff"/>
<polygon points="449.36,345.58 447.01,349.81 451.71,349.81" fill="#0000ff"/>
<polygon points="454.4,353.08 452.05,357.31 456.75,357.31" fill="#0000ff"/>
<polygon points="459.44,345.88 457.09,350.12 461.79,350.12" fill="#0000ff"/>
<polygon points="464.47,339.38 462.12,343.62 466.82,343.62" fill="#0000ff"/>
<polygon points="469.51,331.69 467.16,335.92 471.86,335.92" fill="#0000ff"/>
<polygon points="474.55,331.88 472.2,336.12 476.9,336.12" fill="#0000ff"/>
<polygon points="479.59,331.88 477.24,336.12 481.94,336.12" fill="#0000ff"/>
<polygon points="484.63,326.69 482.28,330.92 486.98,330.92" fill="#0000ff"/>
<polygon points="489.66,335.99 487.31,340.22 492.01,340.22" fill="#0000ff"/>
<polygon points="494.7,344.19 492.35,348.42 497.05,348.42" fill="#0000ff"/>
<polygon points="499.74,351.19 497.39,355.42 502.09,355.42" fill="#0000ff"/>
<polygon points="504.78,356.08 502.43,360.31 507.13,360.31" fill="#0000ff"/>
<polygon points="509.82,358.38 507.47,362.62 512.17,362.62" fill="#0000ff"/>
<polygon points="514.85,354.28 512.5,358.51 517.2,358.51" fill="#0000ff"/>
<polygon points="519.89,362.88 517.54,367.12 522.24,367.12" fill="#0000ff"/>
<polygon points="524.93,360.78 522.58,365.01 527.28,365.01" fill="#0000ff"/>
<polygon points="529.97,348.49 527.62,352.72 532.32,352.72" fill="#0000ff"/>
<polyline points="358.68,356.6 363.71,355.2 368.75,400 373.79,376.8 378.83,361.3 383.87,332.5 388.9,333 393.94,325.1 398.98,305.2 404.02,311.5 409.06,300.8 414.09,283.4 419.13,273.5 424.17,297.5 429.21,350.6 434.25,354.7 439.28,330.5 444.32,305.2 449.36,322 454.4,328.9 459.44,335.4 464.47,334.9 469.51,335.4 474.55,333.1 479.59,321.9 484.63,310.5 489.66,309.2 494.7,306.2 499.74,293.6 504.78,300.5 509.82,300.7 514.85,302 519.89,304.7 524.93,294.7 529.97,301.9" fill="none" stroke="#ff55ff" stroke-width="0.7" stroke-dasharray="2,1"/>
<polygon points="358.68,358.71 356.33,354.48 361.03,354.48" fill="#ff00ff"/>
<polygon points="363.71,357.31 361.36,353.08 366.06,353.08" fill="#ff00ff"/>
<polygon points="368.75,402.12 366.4,397.88 371.1,397.88" fill="#ff00ff"/>
<polygon points="373.79,378.92 371.44,374.69 376.14,374.69" fill="#ff00ff"/>
<polygon points="378.83,363.42 376.48,359.19 381.18,359.19" fill="#ff00ff"/>
<polygon points="383.87,334.62 381.52,330.38 386.22,330.38" fill="#ff00ff"/>
<polygon points="388.9,335.12 386.55,330.88 391.25,330.88" fill="#ff00ff"/>
<polygon points="393.94,327.21 391.59,322.98 396.29,322.98" fill="#ff00ff"/>
<polygon points="398.98,307.31 396.63,303.08 401.33,303.08" fill="#ff00ff"/>
<polygon points="404.02,313.62 401.67,309.38 406.37,309.38" fill="#ff00ff"/>
<polygon points="409.06,302.92 406.71,298.69 411.41,298.69" fill="#ff00ff"/>
<polygon points="414.09,285.51 411.74,281.28 416.44,281.28" fill="#ff00ff"/>
<polygon points="419.13,275.62 416.78,271.38 421.48,271.38" fill="#ff00ff"/>
<polygon points="424.17,299.62 421.82,295.38 426.52,295.38" fill="#ff00ff"/>
<polygon points="429.21,352.71 426.86,348.48 431.56,348.48" fill="#ff00ff"/>
<polygon points="434.25,356.81 431.9,352.58 436.6,352.58" fill="#ff00ff"/>
<polygon points="439.28,332.62 436.93,328.38 441.63,328.38" fill="#ff00ff"/>
<polygon points="444.32,307.31 441.97,303.08 446.67,303.08" fill="#ff00ff"/>
<polygon points="449.36,324.12 447.01,319.88 451.71,319.88" fill="#ff00ff"/>
<polygon points="454.4,331.01 452.05,326.78 456.75,326.78" fill="#ff00ff"/>
<polygon points="459.44,337.51 457.09,333.28 461.79,333.28" fill="#ff00ff"/>
<polygon points="464.47,337.01 462.12,332.78 466.82,332.78" fill="#ff00ff"/>
<polygon points="469.51,337.51 467.16,333.28 471.86,333.28" fill="#ff00ff"/>
<polygon points="474.55,335.21 472.2,330.98 476.9,330.98" fill="#ff00ff"/>
<polygon points="479.59,324.01 477.24,319.78 481.94,319.78" fill="#ff00ff"/>
<polygon points="484.63,312.62 482.28,308.38 486.98,308.38" fill="#ff00ff"/>
<polygon points="489.66,311.31 487.31,307.08 492.01,307.08" fill="#ff00ff"/>
<polygon points="494.7,308.31 492.35,304.08 497.05,304.08" fill="#ff00ff"/>
<polygon points="499.74,295.71 497.39,291.48 502.09,291.48" fill="#ff00ff"/>
<polygon points="504.78,302.62 502.43,298.38 507.13,298.38" fill="#ff00ff"/>
<polygon points="509.82,302.81 507.47,298.58 512.17,298.58" fill="#ff00ff"/>
<polygon points="514.85,304.12 512.5,299.88 517.2,299.88" fill="#ff00ff"/>
<polygon points="519.89,306.81 517.54,302.58 522.24,302.58" fill="#ff00ff"/>
<polygon points="524.93,296.81 522.58,292.58 527.28,292.58" fill="#ff00ff"/>
<polygon points="529.97,304.01 527.62,299.78 532.32,299.78" fill="#ff00ff"/>
<line x1="412" y1="367.1" x2="436.2" y2="367.1" stroke="#999" stroke-width="1.4"/>
<rect x="421.9" y="365.2" width="3.8" height="3.8" fill="#000"/>
<text x="439.4" y="370.8" font-size="10.2" text-anchor="start" fill="#151515">0<tspan dx="1.0">°</tspan></text>
<line x1="412" y1="380.2" x2="436.2" y2="380.2" stroke="#ffcccc" stroke-width="1"/>
<circle cx="423.8" cy="380.2" r="2.1" fill="#ff0000"/>
<text x="439.4" y="383.9" font-size="10.2" text-anchor="start" fill="#151515">15<tspan dx="1.0">°</tspan></text>
<line x1="412" y1="393.2" x2="436.2" y2="393.2" stroke="#3333ff" stroke-width="1"/>
<polygon points="423.8,391.04 421.4,395.36 426.2,395.36" fill="#0000ff"/>
<text x="439.4" y="396.9" font-size="10.2" text-anchor="start" fill="#151515">30<tspan dx="1.0">°</tspan></text>
<line x1="412" y1="406.9" x2="436.2" y2="406.9" stroke="#ff88ff" stroke-width="1"/>
<polygon points="423.8,409.06 421.4,404.74 426.2,404.74" fill="#ff00ff"/>
<text x="439.4" y="410.6" font-size="10.2" text-anchor="start" fill="#151515">45<tspan dx="1.0">°</tspan></text>
</svg></body></html>
